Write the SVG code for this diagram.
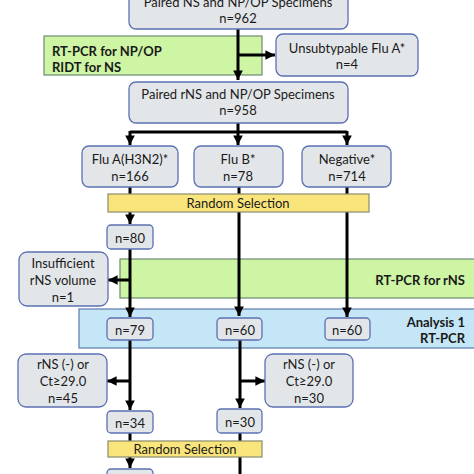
<svg xmlns="http://www.w3.org/2000/svg" width="474" height="474" viewBox="0 0 474 474">
<defs>
<style>
.box{fill:#e3e6e9;stroke:#5b70b3;stroke-width:1.3}
.t{font-family:Lato,"Liberation Sans",sans-serif;font-size:13px;fill:#1a1a1a;text-anchor:middle;dominant-baseline:central}
.b{font-family:Lato,"Liberation Sans",sans-serif;font-size:13px;font-weight:bold;fill:#1a1a1a;dominant-baseline:central}
.green{fill:#cdf5a3;stroke:#6d8a73;stroke-width:1.2}
.blue{fill:#c4e6f6;stroke:#5a7bab;stroke-width:1.2}
.yellow{fill:#fae57c;stroke:#8a8a70;stroke-width:1.2}
.ln{stroke:#000;stroke-width:3;fill:none}
</style>
<marker id="ah" viewBox="0 0 10 10" refX="10" refY="5" markerWidth="3.2" markerHeight="3.2" orient="auto" markerUnits="strokeWidth">
<path d="M0,0 L10,5 L0,10 z" fill="#000"/>
</marker>
</defs>

<g id="bands">
<rect class="green" x="44" y="36" width="218" height="39"/>
<text class="b" x="52" y="51">RT-PCR for NP/OP</text>
<text class="b" x="52" y="67">RIDT for NS</text>
<rect class="green" x="120" y="259" width="360" height="39"/>
<text class="b" x="465" y="280" text-anchor="end">RT-PCR for rNS</text>
<rect class="blue" x="79" y="309" width="401" height="39"/>
<text class="b" x="465" y="322" text-anchor="end">Analysis 1</text>
<text class="b" x="465" y="338" text-anchor="end">RT-PCR</text>
</g>

<g id="connectors">
<line class="ln" x1="238" y1="29" x2="238" y2="80" marker-end="url(#ah)"/>
<line class="ln" x1="238" y1="55" x2="275" y2="55" marker-end="url(#ah)"/>
<line class="ln" x1="238" y1="123" x2="238" y2="132"/>
<line class="ln" x1="130" y1="132" x2="347" y2="132"/>
<line class="ln" x1="130" y1="131" x2="130" y2="145" marker-end="url(#ah)"/>
<line class="ln" x1="238" y1="131" x2="238" y2="145" marker-end="url(#ah)"/>
<line class="ln" x1="347" y1="131" x2="347" y2="145" marker-end="url(#ah)"/>
<line class="ln" x1="130" y1="187" x2="130" y2="194"/>
<line class="ln" x1="130" y1="212" x2="130" y2="224" marker-end="url(#ah)"/>
<line class="ln" x1="130" y1="249" x2="130" y2="317" marker-end="url(#ah)"/>
<line class="ln" x1="130" y1="280" x2="108" y2="280" marker-end="url(#ah)"/>
<line class="ln" x1="239" y1="187" x2="239" y2="194"/>
<line class="ln" x1="239" y1="212" x2="239" y2="316" marker-end="url(#ah)"/>
<line class="ln" x1="347" y1="187" x2="347" y2="194"/>
<line class="ln" x1="347" y1="212" x2="347" y2="317" marker-end="url(#ah)"/>
<line class="ln" x1="130" y1="340" x2="130" y2="410" marker-end="url(#ah)"/>
<line class="ln" x1="130" y1="381" x2="107" y2="381" marker-end="url(#ah)"/>
<line class="ln" x1="240" y1="340" x2="240" y2="408" marker-end="url(#ah)"/>
<line class="ln" x1="240" y1="381" x2="265" y2="381" marker-end="url(#ah)"/>
<line class="ln" x1="130" y1="433" x2="130" y2="441"/>
<line class="ln" x1="130" y1="457" x2="130" y2="468" marker-end="url(#ah)"/>
<line class="ln" x1="240" y1="433" x2="240" y2="441"/>
<line class="ln" x1="240" y1="457" x2="240" y2="480"/>
</g>

<g id="rs1">
<rect class="yellow" x="108" y="194" width="261" height="18"/>
<text class="t" x="238" y="203">Random Selection</text>
</g>
<g id="rs2">
<rect class="yellow" x="108" y="441" width="154" height="16"/>
<text class="t" x="185" y="449">Random Selection</text>
</g>

<g id="n962">
<rect class="box" x="129" y="-12" width="219" height="41" rx="7"/>
<text class="t" x="238" y="2">Paired NS and NP/OP Specimens</text>
<text class="t" x="238" y="18">n=962</text>
</g>
<g id="unsub">
<rect class="box" x="276" y="34" width="142" height="42" rx="7"/>
<text class="t" x="347" y="48">Unsubtypable Flu A*</text>
<text class="t" x="347" y="64">n=4</text>
</g>
<g id="n958">
<rect class="box" x="129" y="82" width="219" height="41" rx="7"/>
<text class="t" x="238" y="94">Paired rNS and NP/OP Specimens</text>
<text class="t" x="238" y="110">n=958</text>
</g>
<g id="fluA">
<rect class="box" x="82" y="146" width="96" height="41" rx="7"/>
<text class="t" x="130" y="159">Flu A(H3N2)*</text>
<text class="t" x="130" y="176">n=166</text>
</g>
<g id="fluB">
<rect class="box" x="194" y="146" width="89" height="41" rx="7"/>
<text class="t" x="238" y="159">Flu B*</text>
<text class="t" x="238" y="176">n=78</text>
</g>
<g id="neg">
<rect class="box" x="302" y="146" width="89" height="41" rx="7"/>
<text class="t" x="347" y="159">Negative*</text>
<text class="t" x="347" y="176">n=714</text>
</g>
<g id="n80">
<rect class="box" x="107" y="225" width="46" height="24" rx="4"/>
<text class="t" x="130" y="238">n=80</text>
</g>
<g id="insuff">
<rect class="box" x="19" y="252" width="89" height="54" rx="8"/>
<text class="t" x="63" y="263">Insufficient</text>
<text class="t" x="63" y="280">rNS volume</text>
<text class="t" x="63" y="297">n=1</text>
</g>
<g id="n79">
<rect class="box" x="107" y="318" width="46" height="22" rx="4"/>
<text class="t" x="130" y="330">n=79</text>
</g>
<g id="n60a">
<rect class="box" x="217" y="318" width="45" height="22" rx="4"/>
<text class="t" x="240" y="330">n=60</text>
</g>
<g id="n60b">
<rect class="box" x="325" y="318" width="45" height="22" rx="4"/>
<text class="t" x="347" y="330">n=60</text>
</g>
<g id="ct45">
<rect class="box" x="18" y="354" width="89" height="53" rx="8"/>
<text class="t" x="63" y="364">rNS (-) or</text>
<text class="t" x="63" y="381">Ct≥29.0</text>
<text class="t" x="63" y="398">n=45</text>
</g>
<g id="ct30">
<rect class="box" x="265" y="354" width="88" height="53" rx="8"/>
<text class="t" x="309" y="364">rNS (-) or</text>
<text class="t" x="309" y="381">Ct≥29.0</text>
<text class="t" x="309" y="398">n=30</text>
</g>
<g id="n34">
<rect class="box" x="107" y="411" width="46" height="22" rx="4"/>
<text class="t" x="130" y="423">n=34</text>
</g>
<g id="n30">
<rect class="box" x="217" y="409" width="45" height="24" rx="4"/>
<text class="t" x="240" y="422">n=30</text>
</g>
<g id="nbottom">
<rect class="box" x="107" y="469" width="46" height="22" rx="4"/>
</g>
</svg>
